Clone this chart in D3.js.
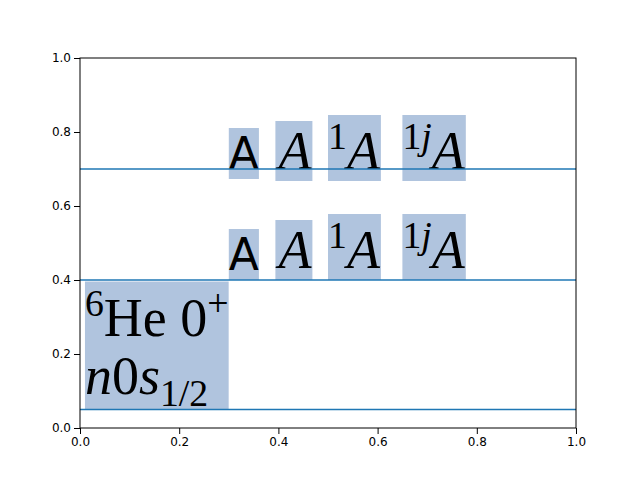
<!DOCTYPE html>
<html><head><meta charset="utf-8">
<script src="https://cdn.jsdelivr.net/npm/d3@7"></script>
<style>body{margin:0;background:#fff}</style>
</head><body><div id="chart"></div>
<script>
var lineYs = [0.05, 0.4, 0.7];
var labelXs = [0.3, 0.4, 0.5, 0.65];
// each label: list of [text, style] parts; style: sans, i=italic serif, sup=superscript serif
var labelParts = [
  [['A', 'sans']],
  [['A', 'i']],
  [['1', 'sup'], ['A', 'i']],
  [['1', 'sup'], ['j', 'supi'], ['A', 'i']]
];
var rows = [{y: 0.7, align: 'baseline'}, {y: 0.4, align: 'bottom'}];
var xTicks = [0, 0.2, 0.4, 0.6, 0.8, 1];
var yTicks = [0, 0.2, 0.4, 0.6, 0.8, 1];

var width = 640, height = 480;
var m = {left: 80, right: 64, top: 58, bottom: 52};
var svg = d3.select('#chart').append('svg').attr('width', width).attr('height', height);
var x = d3.scaleLinear().domain([0, 1]).range([m.left, width - m.right]);
var y = d3.scaleLinear().domain([0, 1]).range([height - m.bottom, m.top]);

var serif = 'Liberation Serif, serif';
var fs = 44, fsSerif = 54, lift = 20;

function addText(parts, px, py) {
  var g = svg.append('g');
  var rect = g.append('rect').attr('fill', '#b0c4de');
  var t = g.append('text').attr('x', px).attr('y', py).attr('font-size', fsSerif);
  parts.forEach(function(p) {
    var ts = t.append('tspan').text(p[0]);
    if (p[1] === 'sans') ts.attr('font-family', 'DejaVu Sans').attr('font-size', fs);
    else if (p[1] === 'i') ts.attr('font-family', serif).attr('font-style', 'italic');
    else if (p[1].indexOf('sup') === 0) {
      ts.attr('font-family', serif).attr('font-size', fsSerif * 0.7);
      if (p[1] === 'supi') ts.attr('font-style', 'italic');
    }
    if (p.dy !== undefined) ts.attr('dy', p.dy);
  });
  return {g: g, rect: rect, t: t};
}

labelParts.forEach(function(parts) {
  var lifted = false;
  parts.forEach(function(p) {
    if (p[1].indexOf('sup') === 0) { if (!lifted) { p.dy = -lift; lifted = true; } }
    else if (lifted) { p.dy = lift; lifted = false; }
  });
});

rows.forEach(function(r) {
  labelXs.forEach(function(lx, i) {
    var o = addText(labelParts[i], x(lx), y(r.y));
    var b = o.t.node().getBBox();
    if (r.align === 'bottom') {
      var shift = y(r.y) - (b.y + b.height);
      o.t.attr('transform', 'translate(0,' + shift + ')');
      b.y += shift;
    }
    o.rect.attr('x', b.x).attr('y', b.y).attr('width', b.width).attr('height', b.height);
  });
});

// two-line nucleus label
var g3 = svg.append('g');
var r3 = g3.append('rect').attr('fill', '#b0c4de');
var t3 = g3.append('text').attr('x', x(0.01)).attr('font-family', serif).attr('font-size', fsSerif);
var l1 = t3.append('tspan').attr('x', x(0.01)).attr('y', y(0.05) - 74);
l1.append('tspan').attr('font-size', fsSerif * 0.7).attr('dy', -lift).text('6');
l1.append('tspan').attr('dy', lift).text('He 0');
l1.append('tspan').attr('font-size', fsSerif * 0.7).attr('dy', -lift).text('+');
var l2 = t3.append('tspan').attr('x', x(0.01)).attr('y', y(0.05) - 16);
l2.append('tspan').attr('font-style', 'italic').text('n');
l2.append('tspan').text('0');
l2.append('tspan').attr('font-style', 'italic').text('s');
l2.append('tspan').attr('font-size', fsSerif * 0.7).attr('dy', 12).text('1/2');
var b3 = t3.node().getBBox();
r3.attr('x', b3.x).attr('y', b3.y).attr('width', b3.width).attr('height', y(0.05) - b3.y);

svg.selectAll('line.h').data(lineYs).enter().append('line')
  .attr('x1', x(0)).attr('x2', x(1)).attr('y1', function(d) { return y(d); }).attr('y2', function(d) { return y(d); })
  .attr('stroke', '#1f77b4').attr('stroke-width', 1.5);

var xAxis = svg.append('g').attr('transform', 'translate(0,' + y(0) + ')')
  .call(d3.axisBottom(x).tickValues(xTicks).tickFormat(d3.format('.1f')).tickSizeOuter(0));
var yAxis = svg.append('g').attr('transform', 'translate(' + x(0) + ',0)')
  .call(d3.axisLeft(y).tickValues(yTicks).tickFormat(d3.format('.1f')).tickSizeOuter(0));
[xAxis, yAxis].forEach(function(a) {
  a.selectAll('text').attr('font-family', 'DejaVu Sans').attr('font-size', 12).attr('fill', '#000');
  a.selectAll('line').attr('stroke', '#000');
  a.select('.domain').remove();
});
svg.append('rect').attr('x', x(0)).attr('y', y(1)).attr('width', x(1) - x(0)).attr('height', y(0) - y(1))
  .attr('fill', 'none').attr('stroke', '#000').attr('stroke-width', 1);
</script></body></html>
